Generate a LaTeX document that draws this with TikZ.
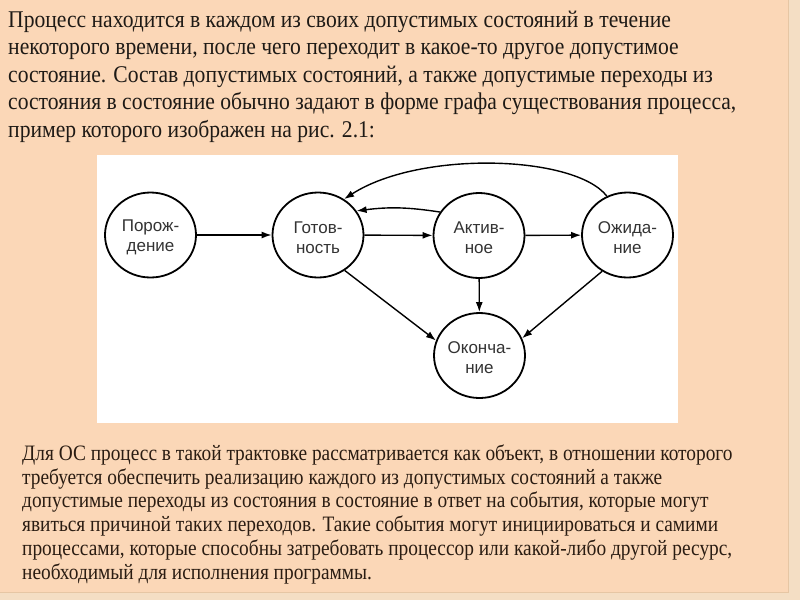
\documentclass[tikz,border=0pt]{standalone}
\usepackage{fontspec}
\setmainfont{Liberation Serif}
\newfontfamily\topfont[FakeStretch=0.9]{Liberation Serif}
\newfontfamily\botfont[FakeStretch=0.88]{Liberation Serif}
\newfontfamily\nodefont{Liberation Sans}
\usetikzlibrary{arrows.meta,shapes.geometric}
\definecolor{peach}{HTML}{FBD7B7}
\definecolor{strip}{HTML}{F4DEC4}
\definecolor{stripline}{HTML}{E6C6A4}
\definecolor{toptxt}{HTML}{1E1A16}
\definecolor{bottxt}{HTML}{2A1C12}
\definecolor{nodetxt}{HTML}{333333}
\begin{document}
\begin{tikzpicture}[x=1pt,y=-1pt,
  state/.style={ellipse, draw=black, line width=1.8pt, fill=white,
    minimum width=91pt, minimum height=85pt, inner sep=0pt},
  statetext/.style={inner sep=0pt, align=center, text=nodetxt,
    font=\nodefont\fontsize{17}{20}\selectfont},
  edge/.style={line width=1.4pt, draw=black, -{Latex[length=10pt,width=7pt]}},
  topline/.style={anchor=base west, inner sep=0pt, text=toptxt,
    font=\topfont\fontsize{24}{27}\selectfont},
  botline/.style={anchor=base west, inner sep=0pt, text=bottxt,
    font=\botfont\fontsize{22}{24}\selectfont}]
\useasboundingbox (0,0) rectangle (800,600);
% background
\fill[strip] (0,0) rectangle (800,600);
\fill[peach] (0,0) rectangle (788,592);
\draw[stripline, line width=1pt] (788,0) -- (788,592) -- (0,592);
% diagram panel
\fill[white] (97,155) rectangle (678,423);
% top text
\node[topline] (t1) at (8,27) {Процесс находится в каждом из своих допустимых состояний в течение};
\node[topline] (t2) at (8,54.5) {некоторого времени, после чего переходит в какое-то другое допустимое};
\node[topline] (t3) at (8,82) {состояние. Состав допустимых состояний, а также допустимые переходы из};
\node[topline] (t4) at (8,109.5) {состояния в состояние обычно задают в форме графа существования процесса,};
\node[topline] (t5) at (8,137) {пример которого изображен на рис. 2.1:};
% states
\node[state] (p) at (150.5,235) {};
\node[state] (g) at (318,235) {};
\node[state] (a) at (479,235.5) {};
\node[state] (w) at (627.5,235) {};
\node[state] (e) at (479.5,355.5) {};
\node[statetext] (pt) at ([yshift=-2.5pt]p.center) {Порож-\\дение};
\node[statetext] (gt) at ([yshift=-2.5pt]g.center) {Готов-\\ность};
\node[statetext] (at) at ([yshift=-2.5pt]a.center) {Актив-\\ное};
\node[statetext] (wt) at ([yshift=-2.5pt]w.center) {Ожида-\\ние};
\node[statetext] (et) at ([yshift=-2.5pt]e.center) {Оконча-\\ние};
% transitions
\draw[edge] (p) -- (g);
\draw[edge] (g) -- (a);
\draw[edge] (a) -- (w);
\draw[edge] (a.149) to[bend right=8] (g.32);
\draw[edge] (w.118) .. controls (575,155) and (420,150) .. (g.54);
\draw[edge] (g.-53) -- (e.161);
\draw[edge] (a) -- (e);
\draw[edge] (w.-125) -- (e.22);
% bottom text
\node[botline] (b1) at (22,460) {Для ОС процесс в такой трактовке рассматривается как объект, в отношении которого};
\node[botline] (b2) at (22,484) {требуется обеспечить реализацию каждого из допустимых состояний а также};
\node[botline] (b3) at (22,507.5) {допустимые переходы из состояния в состояние в ответ на события, которые могут};
\node[botline] (b4) at (22,531) {явиться причиной таких переходов. Такие события могут инициироваться и самими};
\node[botline] (b5) at (22,555) {процессами, которые способны затребовать процессор или какой-либо другой ресурс,};
\node[botline] (b6) at (22,579) {необходимый для исполнения программы.};
\end{tikzpicture}
\end{document}
